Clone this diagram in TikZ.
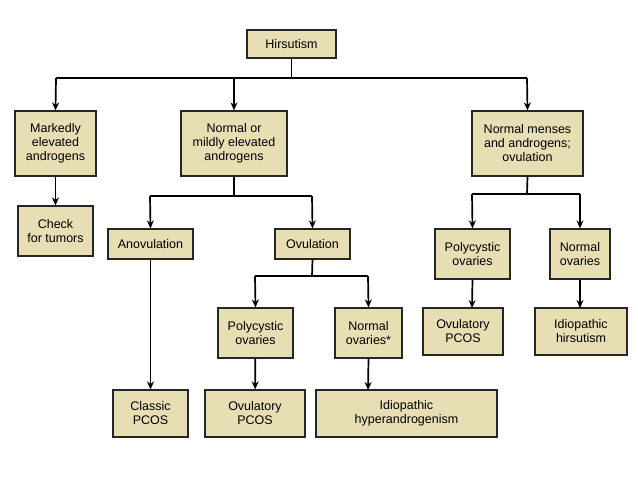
\documentclass[tikz,border=0pt]{standalone}
\usepackage{fontspec}
\setmainfont{Liberation Sans}
\usetikzlibrary{arrows.meta}
\begin{document}
\begin{tikzpicture}[x=1pt,y=-1pt,
 box/.style={draw=black!85,line width=1.2pt,fill={rgb,255:red,232;green,222;blue,180},align=center,inner sep=1pt,font=\fontsize{12.5}{14}\selectfont},
 ar/.style={line width=1.7pt,-{Stealth[length=8pt,width=7pt]}},
 ln/.style={line width=1.7pt}]
\fill[white] (0,0) rectangle (638,478);
\useasboundingbox (0,0) rectangle (638,478);
\newcommand{\bx}[7]{\node[box,minimum width=#4-#2,minimum height=#5-#3] (#1) at ({(#2+#4)/2},{(#3+#5)/2}) {#6};}
\bx{h}{247}{30}{336}{58}{Hirsutism}{}
\bx{m}{15}{111}{96}{176}{Markedly\\elevated\\androgens}{}
\bx{n}{181}{111}{287}{176}{Normal or\\mildly elevated\\androgens}{}
\bx{r}{472}{111}{583}{176}{Normal menses\\and androgens;\\ovulation}{}
\bx{c}{18}{206}{93}{256}{Check\\for tumors}{}
\bx{an}{108}{229}{193}{259}{Anovulation}{}
\bx{ov}{275}{229}{350}{259}{Ovulation}{}
\bx{pr}{435}{229}{510}{279}{Polycystic\\ovaries}{}
\bx{nr}{550}{229}{610}{279}{Normal\\ovaries}{}
\bx{pm}{218}{308}{293}{358}{Polycystic\\ovaries}{}
\bx{nm}{335}{308}{402}{358}{Normal\\ovaries*}{}
\bx{opr}{423}{308}{503}{355}{Ovulatory\\PCOS}{}
\bx{ih}{535}{308}{627}{355}{Idiopathic\\hirsutism}{}
\bx{cp}{113}{390}{188}{437}{Classic\\PCOS}{}
\bx{opm}{205}{390}{305}{437}{Ovulatory\\PCOS}{}
\bx{ihy}{316}{390}{497}{437}{Idiopathic\\hyperandrogenism}{}
\draw[ln] (h.south) -- (291.5,78);
\draw[ln] (56,78) -- (527,78);
\draw[ar] (56,78) -- (m.north);
\draw[ar] (234,78) -- (n.north);
\draw[ar] (527,78) -- (r.north);
\draw[ar] (m) -- (c);
\draw[ln] (n.south) -- (234,196);
\draw[ln] (150,196) -- (312,196);
\draw[ar] (150,196) -- (an.north);
\draw[ar] (312,196) -- (ov.north);
\draw[ar] (an) -- (cp);
\draw[ln] (ov.south) -- (312,276);
\draw[ln] (255,276) -- (368,276);
\draw[ar] (255,276) -- (pm.north);
\draw[ar] (368,276) -- (nm.north);
\draw[ar] (pm) -- (opm);
\draw[ar] (nm.south) -- (368,390);
\draw[ln] (r.south) -- (527,194);
\draw[ln] (472,194) -- (580,194);
\draw[ar] (472,194) -- (pr.north);
\draw[ar] (580,194) -- (nr.north);
\draw[ar] (pr.south) -- (472,308);
\draw[ar] (nr.south) -- (580,308);
\end{tikzpicture}
\end{document}
